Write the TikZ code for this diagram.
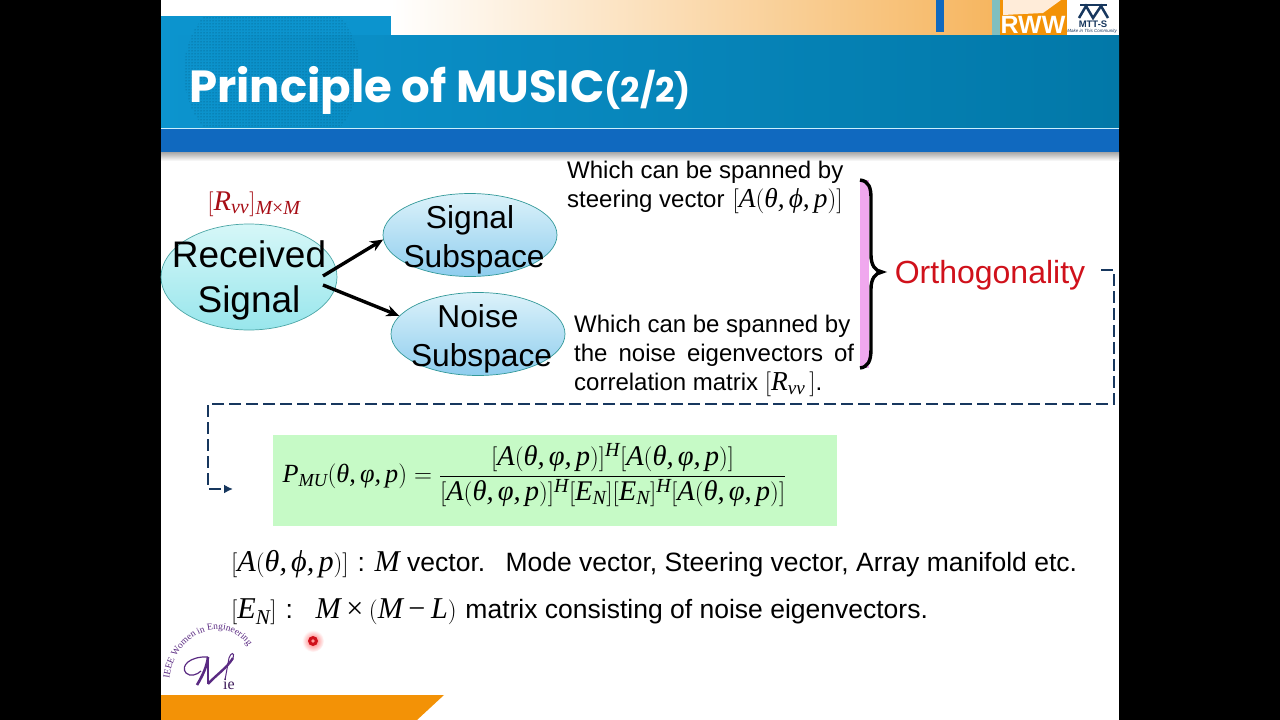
\documentclass[tikz,border=0pt]{standalone}
\usepackage{amsmath,amssymb}
\usepackage{fontspec}
\setmainfont{Liberation Sans}
\newfontfamily\titlefont{Poppins}
\newfontfamily\logofont{Liberation Serif}
\newfontfamily\mserif{Liberation Serif}[NFSSFamily=mserif,Scale=1.14]
\DeclareSymbolFont{mylet}{TU}{mserif}{m}{it}
\DeclareSymbolFont{myup}{TU}{mserif}{m}{n}
\newcommand{\mletter}[1]{\Umathcode`#1="0 \symmylet `#1\relax}
\mletter{A}\mletter{E}\mletter{H}\mletter{L}\mletter{M}\mletter{N}\mletter{P}\mletter{R}\mletter{U}\mletter{p}\mletter{v}
\Umathcode`(="4 \symmyup `(\relax
\Umathcode`)="5 \symmyup `)\relax
\Umathcode`[="4 \symmyup `[\relax
\Umathcode`]="5 \symmyup `]\relax
\Umathcode`,="6 \symmylet `,\relax
\Umathcode`=="3 \symmyup `=\relax
\Umathcode`-="2 \symmyup "2212\relax
\Umathchardef\theta="0 \symmylet "03B8\relax
\Umathchardef\phi="0 \symmylet "03D5\relax
\Umathchardef\varphi="0 \symmylet "03C6\relax
\Umathchardef\times="2 \symmyup "00D7\relax
\usepackage{tikz}
\usetikzlibrary{positioning,arrows.meta,shapes.geometric,calc,patterns,decorations.text}
\definecolor{headblue}{HTML}{0C94CE}
\definecolor{headdark}{HTML}{0278A8}
\definecolor{bandblue}{HTML}{1069BF}
\definecolor{topgold}{HTML}{F6B55E}
\definecolor{navy}{HTML}{17375E}
\definecolor{accent}{HTML}{D0111B}
\definecolor{formulagreen}{HTML}{C6FAC6}
\definecolor{bracepink}{HTML}{F0A8EE}
\definecolor{wieviolet}{HTML}{5A2A82}
\definecolor{barorange}{HTML}{F39206}
\definecolor{recvtop}{HTML}{D6F7F8}
\definecolor{recvbot}{HTML}{98E6EC}
\definecolor{subtop}{HTML}{DCF2FA}
\definecolor{subbot}{HTML}{8ECDEE}

\begin{document}
\begin{tikzpicture}[x=1pt,y=-1pt,every node/.style={font=\fontsize{23}{28}\selectfont},line join=miter]
    \tikzstyle{recv}=[ellipse,draw=teal!70,line width=0.7pt,minimum width=176pt,minimum height=106pt,
                      inner xsep=-35pt,inner ysep=-25pt,top color=recvtop,bottom color=recvbot,
                      align=center,text height=79pt,font=\fontsize{37}{45}\selectfont];
    \tikzstyle{sub}=[ellipse,draw=teal!80,line width=0.7pt,minimum width=174pt,minimum height=83pt,
                     inner xsep=-35pt,inner ysep=-22pt,top color=subtop,bottom color=subbot,
                     align=center,text height=71pt,font=\fontsize{31.7}{39}\selectfont];
    \tikzstyle{note}=[anchor=west,align=left,inner sep=0pt,font=\fontsize{24}{29}\selectfont];
    \tikzstyle{defline}=[anchor=west,inner sep=0pt,font=\fontsize{26.5}{30}\selectfont];
    \tikzstyle{go}=[-{Stealth[length=13pt,width=11pt]},line width=3.4pt];
    \tikzstyle{dashlink}=[navy,line width=2.4pt,dash pattern=on 12pt off 5pt];
    \useasboundingbox (0,0) rectangle (1280,720);
    % --- page and black side bars ---
    \fill[black] (0,0) rectangle (1280,720);
    \fill[white] (161,0) rectangle (1119,720);
    % --- top strip ---
    \shade[left color=white,right color=topgold] (391,0) rectangle (1000,35);
    \fill[bandblue] (936,0) rectangle (944,32);
    \fill[teal!50] (992,0) rectangle (1000,35);
    \fill[barorange] (1000,0) rectangle (1067,35);
    \fill[white!85!orange] (1003,0) -- (1061,0) -- (1043,13) -- (1003,15) -- cycle;
    \node[inner sep=0pt,white,font=\fontsize{25}{25}\bfseries\selectfont] (rww) at (1033,25) {RWW};
    \fill[white] (1067,0) rectangle (1119,35);
    \node[inner sep=0pt,navy,font=\fontsize{9.5}{10}\bfseries\selectfont] (mtt) at (1093,24) {MTT-S};
    \node[inner sep=0pt,navy,font=\fontsize{4.5}{5}\itshape\selectfont] (mtts) at (1092,31) {Make in This Community};
    \draw[navy,line width=2.5pt] (1079,18) -- (1086,6) -- (1093,18) -- (1101,6) -- (1108,18);
    \draw[navy,line width=2pt] (1080,5) -- (1107,5);
    % --- header ---
    \shade[left color=headblue,right color=headdark] (161,35) rectangle (1119,128);
    \fill[headblue] (161,16) rectangle (391,35);
    \begin{scope}
      \clip (161,16) rectangle (391,128);
      \fill[pattern=dots,pattern color=headdark!70!black] (272,72) circle (88);
    \end{scope}
    \fill[white!80!cyan] (161,128) rectangle (1119,129);
    \fill[bandblue] (161,129) rectangle (1119,152);
    \shade[top color=black!35,bottom color=white] (161,152) rectangle (1119,161);
    \node[anchor=west,inner sep=0pt,white,font=\fontsize{45}{50}\titlefont\bfseries\selectfont] (title) at (189,90)
      {Principle of MUSIC{\fontsize{34}{36}\selectfont(2/2)}};
    % --- ellipses ---
    \node[recv] (received) at (249,277) {Received\\Signal};
    \node[sub]  (signal)   at (470,235) {Signal\\\hspace*{8pt}Subspace};
    \node[sub]  (noise)    at (478,334) {Noise\\\hspace*{7pt}Subspace};
    \node[inner sep=0pt,accent!80!black,font=\fontsize{25}{29}\selectfont] (rvv) at (254,204) {$[R_{vv}]_{M\times M}$};
    \draw[go] ([xshift=74pt,yshift=1pt]received.center) -- (signal.183);
    \draw[go] ([xshift=74pt,yshift=-8pt]received.center) -- (noise.167);
    % --- notes ---
    \node[note] (notea) at (567,187) {Which can be spanned by\\steering vector\,\,$[A(\theta,\phi,p)]$};
    \node[note] (noteb) at (574,356) {Which can be spanned by\\\makebox[280pt][s]{the noise eigenvectors of}\\correlation matrix $[R_{vv}\,]$.};
    % --- brace ---
    \fill[bracepink] (860,180) rectangle (869,368);
    \draw[line width=3.4pt] (860,180) .. controls (869,181) and (871,188) .. (871,198)
      -- (871,255) .. controls (871,265) and (875,271) .. (882,272)
      .. controls (875,273) and (871,279) .. (871,289)
      -- (871,349) .. controls (871,361) and (868,367) .. (860,368);
    \node[inner sep=0pt,accent,font=\fontsize{32}{36}\selectfont] (ortho) at (990,275) {Orthogonality};
    % --- formula ---
    \node[fill=formulagreen,minimum width=564pt,minimum height=91pt,inner sep=0pt] (formula) at (555,480) {};
    \node[inner sep=0pt,font=\fontsize{25}{29}\selectfont] (pmu) at (534.5,475)
      {$\mbox{\fontsize{23}{28}\selectfont$P_{MU}(\theta,\varphi,p)$}=\dfrac{[A(\theta,\varphi,p)]^{H}[A(\theta,\varphi,p)]}{[A(\theta,\varphi,p)]^{H}[E_N][E_N]^{H}[A(\theta,\varphi,p)]}$};
    \coordinate (lka) at (1101,270);
    \coordinate (lkb) at (233,489);
    \draw[dashlink,-{Latex[length=9pt,width=9pt]}] (lka) -- (1114,270) -- (1114,404) -- (208,404) -- (208,489) -- (lkb);
    % --- definitions ---
    \node[defline] (defa) at (231,564) {$[A(\theta,\phi,p)]$\,\,: $M$ vector.\hspace{10.5pt} Mode vector, Steering vector, Array manifold etc.};
    \node[defline] (defb) at (231,612) {$[E_N]$\,\,:\hspace{13pt} $M\times(M-L)$\,\,matrix consisting of noise eigenvectors.};
    % --- pointer ---
    \shade[inner color=red!60,outer color=white] (313,641) circle (11);
    \fill[accent] (313,641) circle (5);
    \fill[white!60!red] (313,641) circle (1.8);
    % --- logo and bottom bar ---
    \draw[wieviolet,line width=1.2pt] (208,657) .. controls (190,656) and (180,666) .. (186,673) .. controls (190,677) and (197,675) .. (201,671);
    \draw[wieviolet,line width=2.6pt] (197,685) .. controls (203,675) and (207,666) .. (208,657);
    \draw[wieviolet,line width=1.2pt] (208,657) -- (208,684);
    \draw[wieviolet,line width=2.4pt] (208,684) .. controls (216,675) and (227,668) .. (233,658);
    \draw[wieviolet,line width=1pt] (233,658) .. controls (235,652) and (231,652) .. (229,658) -- (225,680);
    \node[inner sep=0pt,wieviolet!70!black,font=\fontsize{16}{16}\logofont\selectfont] (wiee) at (229,684) {ie};
    \path[decorate,decoration={text along path,text align=center,
        text={|\fontsize{9.5}{10}\logofont\color{wieviolet}|IEEE Women in Engineering}}]
        (169,685) .. controls (170,630) and (232,610) .. (251,652);
    \fill[barorange] (161,695) -- (444,695) -- (417,720) -- (161,720) -- cycle;
\end{tikzpicture}
\end{document}
